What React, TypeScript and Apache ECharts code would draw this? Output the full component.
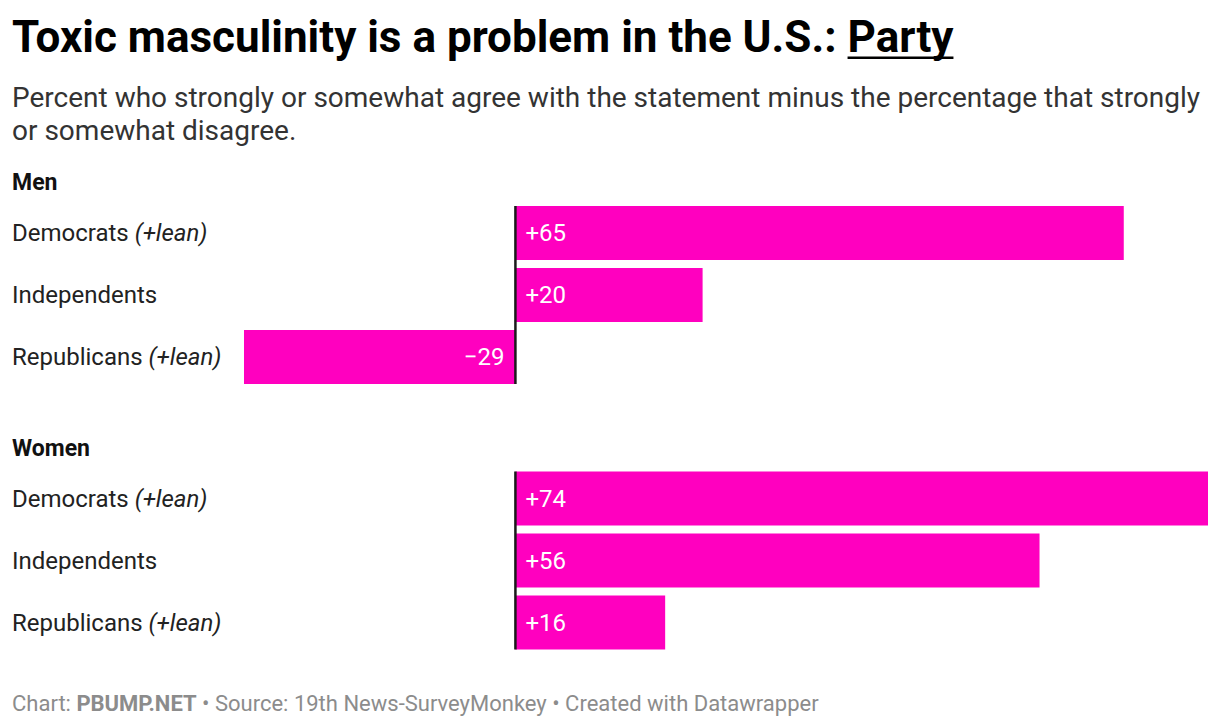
import React, { useEffect, useRef } from 'react';
import * as echarts from 'echarts';

// Net agreement (agree minus disagree), by party and gender
const parties = ['Democrats', 'Independents', 'Republicans'];
const leaners = [true, false, true];
const groupNames = ['Men', 'Women'];
const menValues = [65, 20, -29];
const womenValues = [74, 56, 16];

const titleMain = 'Toxic masculinity is a problem in the U.S.: ';
const titleLink = 'Party';
const subtitleLines = [
  'Percent who strongly or somewhat agree with the statement minus the percentage that strongly',
  'or somewhat disagree.',
];
const footerParts = ['Chart: ', 'PBUMP.NET', ' \u2022 Source: 19th News-SurveyMonkey \u2022 Created with Datawrapper'];

const PINK = '#ff00bf';
const FONT = 'Roboto, "Noto Sans", sans-serif';
const BAR = 54;

const fmtValue = (v: number) => (v > 0 ? '+' + v : '\u2212' + Math.abs(v));

function measure(text: string, font: string): number {
  const c = document.createElement('canvas').getContext('2d');
  if (!c) return 0;
  c.font = font;
  return c.measureText(text).width;
}

export default function App() {
  const ref = useRef<HTMLDivElement>(null);

  useEffect(() => {
    document.body.style.margin = '0';
    if (!ref.current) return;
    const chart = echarts.init(ref.current, undefined, { renderer: 'svg' });

    const all = [...menValues, ...womenValues];
    const minV = Math.min(...all);
    const maxV = Math.max(...all);

    const gridLeft = 244;
    const labelX = 12;
    const grids = [
      { left: gridLeft, right: 12, top: 202, height: 186 },
      { left: gridLeft, right: 12, top: 467.5, height: 186 },
    ];

    const titleFont = `bold 44px ${FONT}`;
    const mainW = measure(titleMain, titleFont);
    const linkW = measure(titleLink, titleFont);

    const valueSets = [menValues, womenValues];

    const xAxes = grids.map((_, i) => ({
      type: 'value',
      gridIndex: i,
      min: minV,
      max: maxV,
      show: false,
    }));

    const yAxes = grids.map((_, i) => ({
      type: 'category',
      gridIndex: i,
      inverse: true,
      data: parties,
      axisLine: { show: false },
      axisTick: { show: false },
      axisLabel: {
        align: 'left',
        margin: gridLeft - labelX,
        formatter: (v: string) => {
          const idx = parties.indexOf(v);
          return leaners[idx] ? `{n|${v} }{i|(+lean)}` : `{n|${v}}`;
        },
        rich: {
          n: { fontFamily: FONT, fontSize: 24, color: '#222' },
          i: { fontFamily: FONT, fontSize: 24, color: '#222', fontStyle: 'italic' },
        },
      },
    }));

    const barSeries = valueSets.map((vals, i) => ({
      type: 'bar',
      xAxisIndex: i,
      yAxisIndex: i,
      barWidth: BAR,
      itemStyle: { color: PINK },
      data: vals.map((v) => ({
        value: v,
        label: {
          show: true,
          position: v >= 0 ? 'insideLeft' : 'insideRight',
          distance: v >= 0 ? 10 : 11,
          formatter: () => fmtValue(v),
          color: '#fff',
          fontFamily: FONT,
          fontSize: 24,
        },
      })),
    }));

    // Zero baseline spanning the bars of each group
    const zeroSeries = valueSets.map((vals, i) => ({
      type: 'custom',
      xAxisIndex: i,
      yAxisIndex: i,
      z: 5,
      data: [[0, 0]],
      renderItem: (_p: any, api: any) => {
        const a = api.coord([0, 0]);
        const b = api.coord([0, vals.length - 1]);
        return {
          type: 'line',
          shape: { x1: a[0], y1: a[1] - BAR / 2, x2: b[0], y2: b[1] + BAR / 2 },
          style: { stroke: '#1a1a1a', lineWidth: 2.5 },
        };
      },
    }));

    const graphic: any[] = [
      {
        type: 'text',
        x: 12,
        y: 37,
        style: { text: titleMain + titleLink, font: titleFont, fill: '#000', textVerticalAlign: 'middle' },
      },
      {
        type: 'rect',
        shape: { x: 12 + mainW, y: 56.5, width: linkW, height: 2.5 },
        style: { fill: '#000' },
      },
      ...subtitleLines.map((t, k) => ({
        type: 'text',
        x: 12,
        y: 97 + k * 33,
        style: { text: t, font: `28px ${FONT}`, fill: '#333', textVerticalAlign: 'middle' },
      })),
      ...groupNames.map((g, k) => ({
        type: 'text',
        x: 12,
        y: k === 0 ? 182 : 448,
        style: { text: g, font: `bold 23px ${FONT}`, fill: '#111', textVerticalAlign: 'middle' },
      })),
      {
        type: 'text',
        x: 12,
        y: 703,
        style: {
          text: `{a|${footerParts[0]}}{b|${footerParts[1]}}{a|${footerParts[2]}}`,
          fill: '#8c8c8c',
          textVerticalAlign: 'middle',
          rich: {
            a: { fontFamily: FONT, fontSize: 22, fill: '#8c8c8c' },
            b: { fontFamily: FONT, fontSize: 22, fill: '#8c8c8c', fontWeight: 'bold' },
          },
        },
      },
    ];

    chart.setOption({
      animation: false,
      grid: grids,
      xAxis: xAxes,
      yAxis: yAxes,
      series: [...barSeries, ...zeroSeries],
      graphic,
    });

    return () => chart.dispose();
  }, []);

  return <div ref={ref} style={{ width: 1220, height: 726 }} />;
}
